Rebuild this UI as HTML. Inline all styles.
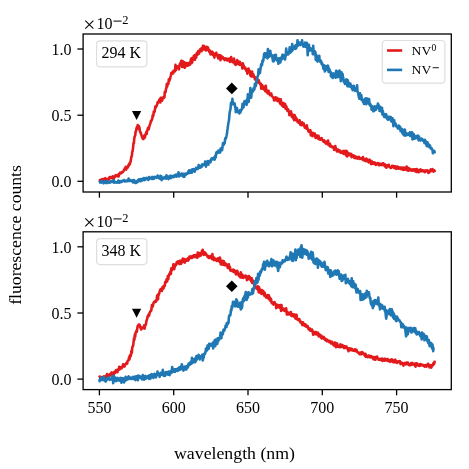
<!DOCTYPE html>
<html><head><meta charset="utf-8"><style>
html,body{margin:0;padding:0;background:#fff;width:469px;height:469px;overflow:hidden}
svg{display:block;will-change:transform}
.t{font-family:"Liberation Serif",serif;font-size:16px;fill:#000}
.l{font-family:"Liberation Serif",serif;font-size:13px;fill:#000}
</style></head><body>
<svg width="469" height="469" viewBox="0 0 469 469">
<rect width="469" height="469" fill="#fff"/>
<path d="M99.4 181.1L99.6 180.9L99.9 180.0L100.2 180.4L100.5 180.7L100.9 180.3L101.3 179.6L101.7 179.9L102.1 179.1L102.6 179.8L103.1 179.7L103.5 179.0L104.0 180.0L104.5 179.3L104.9 178.4L105.4 178.2L105.9 180.3L106.3 179.9L106.7 179.2L107.1 179.7L107.5 179.2L107.9 178.8L108.4 179.1L108.8 179.7L109.2 178.0L109.6 177.2L110.0 177.0L110.4 178.2L110.8 177.2L111.1 178.0L111.5 177.9L111.9 177.4L112.3 178.3L112.7 176.3L113.1 178.6L113.5 177.9L113.9 178.6L114.3 177.0L114.8 176.8L115.2 176.0L115.6 175.2L116.1 176.0L116.5 176.1L116.9 175.5L117.4 176.1L117.8 174.8L118.2 175.4L118.6 176.5L119.1 173.9L119.5 174.3L119.9 172.8L120.3 172.9L120.7 172.8L121.1 173.3L121.6 173.1L122.0 172.1L122.4 171.8L122.9 172.0L123.3 171.4L123.7 170.6L124.1 169.7L124.5 169.3L124.9 168.3L125.3 169.4L125.7 166.9L126.0 169.6L126.4 167.8L126.7 168.4L127.3 168.0L127.8 167.4L128.2 165.8L128.7 164.7L129.1 165.3L129.4 163.5L129.8 164.4L130.1 162.3L130.6 161.8L131.1 158.3L131.4 156.8L131.8 156.3L132.2 152.0L132.7 150.7L133.1 147.3L133.5 143.0L133.9 143.2L134.3 138.1L134.8 136.1L135.2 135.5L135.6 131.6L136.0 131.3L136.4 128.9L136.9 127.0L137.3 127.4L137.7 125.1L138.1 128.6L138.6 127.6L139.0 126.3L139.5 128.1L139.9 131.4L140.3 132.1L140.7 132.6L141.1 134.3L141.5 135.2L141.9 136.4L142.3 137.4L142.7 138.7L143.2 139.2L143.6 136.5L144.0 138.2L144.5 135.3L144.9 137.5L145.4 134.5L145.8 134.2L146.2 132.2L146.7 133.9L147.1 130.5L147.5 130.5L148.0 127.8L148.4 129.0L148.8 129.1L149.2 127.0L149.7 125.1L150.1 124.2L150.5 123.0L150.9 121.1L151.4 120.8L152.0 119.2L152.3 118.6L152.7 115.4L153.1 116.1L153.4 115.1L153.8 111.5L154.3 112.0L154.7 111.6L155.1 107.9L155.5 106.3L156.0 107.3L156.4 105.6L156.9 105.4L157.3 103.7L157.7 102.1L158.1 102.7L158.5 102.6L159.0 100.6L159.4 99.6L159.8 102.2L160.3 102.4L160.7 97.7L161.1 98.0L161.5 97.9L162.0 100.6L162.4 99.1L162.8 98.2L163.2 98.4L163.6 96.7L164.0 97.0L164.4 97.5L164.8 91.9L165.3 92.5L165.7 91.3L166.1 88.6L166.4 88.1L166.8 84.0L167.2 86.5L167.6 83.3L168.0 84.1L168.4 84.0L168.8 79.4L169.2 80.8L169.7 79.9L170.1 78.7L170.5 76.8L170.9 75.2L171.4 72.8L171.8 72.6L172.2 73.4L172.6 72.1L173.1 73.5L173.5 70.7L173.9 71.5L174.3 71.2L174.7 71.5L175.1 70.0L175.5 64.9L175.9 70.2L176.2 68.8L176.6 66.2L177.0 66.9L177.5 66.3L178.0 67.2L178.5 67.9L179.0 69.3L179.3 65.5L179.7 65.5L180.1 63.2L180.5 64.9L180.9 63.5L181.3 60.8L181.7 64.8L182.1 67.0L182.6 61.0L183.0 63.6L183.5 65.7L183.9 66.8L184.4 62.2L184.8 67.8L185.2 66.0L185.6 63.8L186.0 66.2L186.4 65.8L186.8 63.0L187.2 64.2L187.5 64.5L188.0 65.6L188.5 63.1L189.0 62.9L189.4 65.0L189.9 64.7L190.3 61.9L190.6 61.4L191.0 59.0L191.4 63.3L191.8 58.1L192.2 62.6L192.6 59.2L193.0 59.1L193.4 58.7L193.8 55.9L194.2 57.3L194.6 55.3L195.0 59.8L195.4 55.6L195.8 55.6L196.2 57.5L196.6 53.5L197.0 52.8L197.4 54.7L197.8 54.6L198.2 51.1L198.7 51.1L199.1 53.6L199.5 51.2L199.9 50.9L200.4 49.0L200.8 51.3L201.2 48.5L201.6 51.2L202.1 49.4L202.5 48.9L202.9 45.9L203.3 49.4L203.7 49.5L204.1 46.0L204.5 48.1L204.9 49.4L205.3 48.5L205.8 50.4L206.2 49.2L206.6 46.9L207.1 50.1L207.5 50.0L208.0 47.5L208.4 49.7L208.7 50.0L209.1 49.9L209.4 52.1L209.8 50.6L210.2 52.1L210.6 54.5L211.0 53.6L211.4 52.0L211.8 51.7L212.2 53.2L212.6 51.9L213.0 55.0L213.5 55.4L213.9 53.8L214.4 57.6L214.8 54.3L215.2 53.7L215.6 54.7L215.9 54.5L216.3 52.8L216.7 55.1L217.2 54.6L217.6 56.9L218.0 57.2L218.4 58.5L218.8 55.0L219.3 57.8L219.7 58.5L220.1 55.4L220.5 60.2L221.0 55.8L221.4 58.6L221.8 56.6L222.2 57.5L222.6 56.8L222.9 57.9L223.3 58.8L223.8 58.5L224.2 58.3L224.7 60.1L225.1 58.8L225.5 59.2L225.9 58.4L226.4 59.8L226.8 60.2L227.2 60.4L227.6 59.9L228.0 58.8L228.4 60.3L228.8 58.9L229.2 58.6L229.6 60.1L230.0 61.9L230.4 58.9L230.8 61.5L231.2 57.1L231.6 60.9L232.0 61.2L232.4 61.6L232.8 62.2L233.2 61.0L233.6 61.5L234.0 58.6L234.4 61.8L234.8 63.9L235.2 61.8L235.6 64.9L236.0 63.2L236.4 64.2L236.8 62.0L237.2 60.1L237.6 61.2L238.1 62.5L238.5 63.8L238.9 61.8L239.3 64.7L239.8 61.9L240.2 62.7L240.6 64.4L241.0 64.3L241.5 65.3L241.9 64.4L242.3 68.4L242.7 63.2L243.2 64.9L243.6 65.2L244.0 68.1L244.4 68.0L244.8 67.5L245.2 67.6L245.6 69.5L246.0 69.1L246.4 70.9L246.8 69.2L247.3 73.6L247.7 71.9L248.1 71.4L248.5 68.6L248.9 70.4L249.3 71.6L249.7 70.9L250.1 72.9L250.5 75.8L250.9 74.2L251.3 76.5L251.7 72.6L252.1 71.5L252.5 76.5L252.9 75.6L253.3 74.3L253.7 75.6L254.1 76.5L254.5 76.9L254.9 79.3L255.3 79.5L255.7 77.6L256.1 77.9L256.5 81.4L256.9 80.7L257.3 81.4L257.7 82.4L258.1 81.2L258.5 79.9L258.9 80.8L259.3 82.9L259.7 82.9L260.1 83.9L260.5 83.3L260.9 85.3L261.3 88.8L261.7 86.5L262.1 85.0L262.5 86.1L262.9 87.5L263.3 88.8L263.7 89.4L264.1 86.7L264.5 89.1L264.9 89.1L265.3 91.3L265.8 85.9L266.2 89.9L266.6 91.2L267.0 92.4L267.4 90.8L267.8 93.5L268.2 93.4L268.6 90.8L269.1 93.9L269.5 93.2L270.0 95.2L270.4 94.1L270.9 95.1L271.3 93.6L271.7 95.4L272.0 96.0L272.5 96.6L272.9 97.1L273.3 97.7L273.7 98.2L274.1 100.4L274.6 98.7L275.0 99.0L275.4 97.3L275.8 98.1L276.3 100.5L276.7 97.7L277.1 100.0L277.5 100.1L277.9 101.1L278.4 98.8L278.7 100.8L279.1 99.1L279.5 100.6L279.9 103.4L280.4 103.8L280.8 99.4L281.2 103.1L281.7 105.1L282.1 102.9L282.5 104.6L282.9 106.6L283.3 106.6L283.6 103.1L284.0 105.9L284.4 105.6L284.8 106.7L285.2 104.1L285.5 108.7L285.9 108.9L286.3 106.3L286.7 108.0L287.1 108.8L287.5 111.0L287.9 110.7L288.3 109.4L288.7 111.9L289.1 111.8L289.4 115.1L289.8 112.4L290.2 112.8L290.6 112.1L291.0 111.4L291.4 113.3L291.9 117.0L292.3 114.8L292.7 114.7L293.0 114.8L293.4 118.6L293.8 118.2L294.2 120.2L294.6 115.1L295.1 117.5L295.5 116.8L295.9 120.3L296.3 118.2L296.7 118.7L297.2 119.8L297.6 121.9L298.0 120.6L298.4 120.9L298.8 122.9L299.2 121.5L299.6 120.3L300.0 122.2L300.4 124.9L300.8 122.9L301.3 123.4L301.7 125.1L302.1 122.3L302.5 124.5L302.9 125.0L303.3 124.2L303.7 123.5L304.0 125.0L304.4 125.8L304.8 127.6L305.2 127.5L305.6 127.4L306.0 127.5L306.4 128.7L306.8 125.3L307.2 127.8L307.6 128.9L308.0 129.3L308.4 131.4L308.8 131.6L309.2 131.3L309.6 132.1L310.0 131.1L310.4 130.2L310.8 135.3L311.2 133.0L311.6 132.5L312.0 134.3L312.4 136.2L312.8 133.8L313.2 133.0L313.6 133.9L314.0 134.9L314.4 135.3L314.8 133.6L315.2 136.6L315.6 138.0L316.0 136.7L316.4 135.5L316.8 137.4L317.3 135.7L317.7 138.4L318.1 138.1L318.5 135.7L318.9 137.6L319.3 139.4L319.7 138.2L320.1 139.6L320.5 139.7L320.9 138.8L321.3 139.2L321.7 138.1L322.1 139.8L322.5 140.1L322.9 140.2L323.3 141.3L323.7 141.9L324.1 140.2L324.5 142.0L324.9 142.2L325.3 141.7L325.7 143.6L326.1 142.6L326.5 141.6L326.9 143.2L327.3 143.3L327.7 144.4L328.1 140.6L328.5 144.4L328.9 144.6L329.2 143.6L329.6 146.0L330.0 143.9L330.4 146.5L330.8 146.7L331.2 146.7L331.6 146.2L332.0 147.1L332.4 147.1L332.8 146.7L333.2 147.1L333.7 147.4L334.1 149.9L334.5 149.0L334.8 147.4L335.2 146.0L335.6 147.3L336.0 149.3L336.4 149.4L336.8 151.3L337.2 151.5L337.6 149.6L338.0 149.5L338.4 150.9L338.9 150.8L339.3 151.9L339.7 150.4L340.1 151.4L340.5 151.8L340.9 152.9L341.4 151.8L341.8 152.7L342.2 151.4L342.6 151.2L343.0 150.8L343.4 153.9L343.8 153.2L344.2 151.6L344.6 152.8L345.1 150.9L345.5 153.1L345.9 155.4L346.3 152.7L346.7 150.9L347.1 156.5L347.5 153.9L347.9 153.1L348.3 152.8L348.7 155.2L349.2 153.7L349.6 154.1L350.0 155.1L350.4 153.8L350.8 155.4L351.2 153.9L351.6 157.3L352.0 154.7L352.4 155.8L352.8 155.2L353.2 156.4L353.6 155.4L354.0 156.5L354.4 158.0L354.8 156.1L355.3 157.5L355.7 158.2L356.1 157.8L356.5 158.1L356.9 156.9L357.3 157.8L357.7 158.6L358.1 158.0L358.5 157.0L358.9 156.9L359.3 158.1L359.7 158.8L360.1 158.0L360.5 158.0L360.9 158.7L361.3 158.4L361.8 158.1L362.2 159.4L362.6 158.9L363.0 157.0L363.4 160.2L363.8 158.7L364.3 159.9L364.7 160.8L365.1 160.8L365.5 160.8L365.9 161.1L366.3 158.6L366.7 159.0L367.1 159.4L367.5 159.8L367.8 160.5L368.2 161.7L368.6 162.3L369.1 160.6L369.5 159.7L369.9 161.4L370.3 160.7L370.7 161.2L371.1 164.1L371.5 161.0L371.8 161.7L372.2 161.9L372.6 162.1L373.0 163.7L373.4 162.6L373.8 163.1L374.2 162.4L374.7 164.0L375.1 162.8L375.5 163.3L375.9 164.9L376.3 163.9L376.7 163.6L377.1 163.8L377.5 163.1L377.9 163.1L378.3 163.4L378.8 165.2L379.2 163.5L379.6 165.3L380.1 164.9L380.5 163.9L380.9 164.0L381.4 164.5L381.8 165.1L382.2 164.3L382.6 163.4L383.1 163.4L383.5 164.5L383.9 165.1L384.3 163.9L384.7 166.4L385.1 164.5L385.5 165.4L385.9 165.3L386.4 167.8L386.8 166.2L387.2 165.5L387.6 165.2L388.0 165.9L388.4 166.1L388.8 164.8L389.2 166.8L389.6 167.3L390.1 167.1L390.5 167.4L390.9 168.0L391.3 167.6L391.7 167.3L392.1 165.8L392.5 165.9L392.9 166.7L393.3 166.0L393.7 167.0L394.1 167.8L394.5 166.9L394.9 166.2L395.3 168.0L395.7 167.3L396.2 168.8L396.6 168.5L397.0 168.4L397.4 166.4L397.8 167.5L398.2 168.7L398.6 168.3L399.0 167.4L399.4 168.6L399.8 168.5L400.2 168.2L400.6 167.6L401.0 169.1L401.4 168.9L401.8 167.7L402.2 167.9L402.6 169.3L403.0 169.9L403.4 167.5L403.8 169.7L404.2 168.9L404.6 168.7L405.1 169.6L405.5 167.6L405.9 168.6L406.3 168.0L406.7 166.6L407.1 170.3L407.5 168.9L407.9 167.8L408.3 170.7L408.7 168.6L409.1 169.7L409.5 168.5L409.9 170.2L410.3 169.1L410.7 169.9L411.1 170.4L411.5 169.5L411.9 170.7L412.3 170.4L412.7 169.6L413.1 169.4L413.5 170.4L414.0 169.4L414.4 170.3L414.8 171.2L415.2 169.3L415.6 169.6L416.0 170.5L416.4 171.9L416.8 169.1L417.2 170.0L417.6 170.3L418.0 169.8L418.4 172.2L418.8 172.1L419.2 171.4L419.6 171.6L420.1 170.8L420.5 169.4L420.9 170.8L421.3 170.3L421.7 170.0L422.1 171.3L422.5 171.2L422.9 170.4L423.3 171.3L423.7 170.7L424.2 171.0L424.6 170.6L425.0 172.2L425.4 170.8L425.8 170.4L426.2 171.2L426.6 170.8L427.0 170.3L427.5 170.6L428.0 170.7L428.4 172.9L428.9 172.0L429.4 172.3L429.8 171.2L430.3 170.3L430.8 169.4L431.2 170.8L431.7 171.0L432.1 169.8L432.5 169.2L432.9 170.8L433.3 170.1L433.6 171.8L433.9 171.1L434.2 170.3L434.5 170.6L434.7 172.1" fill="none" stroke="#e31a1c" stroke-width="2.6" stroke-linejoin="round"/>
<path d="M99.4 182.5L99.6 182.0L99.8 182.0L100.1 182.5L100.4 182.4L100.7 182.4L101.0 182.7L101.3 182.5L101.6 180.9L102.0 181.7L102.4 182.1L102.8 181.7L103.2 182.4L103.6 183.3L104.0 183.0L104.4 181.7L104.8 182.1L105.3 182.4L105.7 181.5L106.2 183.0L106.7 182.3L107.1 181.2L107.6 183.0L108.1 181.8L108.5 181.5L109.0 182.1L109.5 182.6L109.9 182.7L110.4 182.4L110.9 181.3L111.4 181.8L111.8 181.3L112.3 181.7L112.7 180.8L113.2 182.2L113.6 182.5L114.0 180.3L114.4 181.5L114.8 182.6L115.2 182.1L115.6 182.3L116.1 182.5L116.5 182.4L117.0 182.7L117.4 182.2L117.9 181.3L118.3 180.5L118.8 182.3L119.2 182.6L119.7 181.4L120.2 181.9L120.6 182.2L121.1 181.0L121.5 181.3L121.9 181.8L122.4 180.9L122.8 180.9L123.2 180.7L123.7 180.2L124.1 180.1L124.5 181.3L124.9 181.5L125.3 180.9L125.7 181.2L126.1 180.9L126.5 180.6L126.9 181.1L127.2 181.0L127.6 180.3L127.9 181.2L128.3 180.7L128.6 178.5L128.9 180.6L129.2 180.6L129.8 180.9L130.4 180.0L130.9 181.0L131.3 180.7L131.7 180.8L132.1 180.5L132.4 180.3L132.7 181.9L133.0 182.5L133.4 181.4L133.7 182.1L134.0 180.1L134.4 181.1L134.8 181.1L135.3 182.9L135.6 182.1L136.0 182.1L136.3 182.9L136.6 181.6L137.0 181.1L137.3 181.5L137.6 182.0L138.0 181.7L138.3 179.8L138.7 180.0L139.0 179.3L139.4 181.0L139.8 179.5L140.2 179.1L140.7 181.2L141.1 180.9L141.6 179.4L142.2 180.3L142.7 178.5L143.3 179.3L143.9 178.0L144.2 180.3L144.5 178.8L144.9 179.7L145.2 178.9L145.5 178.6L145.9 178.2L146.3 179.0L146.7 177.8L147.1 179.1L147.5 179.5L147.9 179.2L148.3 179.8L148.7 179.1L149.2 177.1L149.6 178.9L150.0 177.8L150.5 177.8L150.9 178.1L151.4 178.1L151.8 179.0L152.3 176.9L152.8 178.9L153.2 177.3L153.7 178.6L154.1 178.7L154.6 176.9L155.0 177.2L155.5 177.4L155.9 177.1L156.4 177.5L156.8 177.9L157.2 177.7L157.6 175.6L158.1 177.3L158.5 176.6L158.9 177.0L159.3 178.3L159.6 178.0L160.0 178.4L160.4 175.9L160.7 179.0L161.1 177.3L161.4 176.3L161.7 180.1L162.0 178.3L162.6 177.7L163.2 178.6L163.7 177.5L164.2 178.4L164.7 177.4L165.1 177.1L165.5 177.6L165.8 176.6L166.2 178.7L166.5 175.2L166.8 178.0L167.1 178.1L167.4 178.1L167.8 178.3L168.1 176.7L168.4 179.1L168.8 176.6L169.2 177.3L169.6 176.1L170.0 178.2L170.4 175.7L170.7 178.0L171.1 177.9L171.5 177.2L171.9 175.9L172.3 177.1L172.7 176.3L173.1 176.8L173.5 176.6L173.9 177.1L174.3 175.4L174.7 176.1L175.2 176.1L175.6 176.1L176.0 174.6L176.4 176.8L176.9 175.5L177.3 174.7L177.7 175.4L178.1 175.9L178.5 172.4L179.0 176.5L179.4 173.5L179.8 175.2L180.2 174.9L180.6 175.5L181.0 175.3L181.4 175.7L181.9 173.6L182.3 175.3L182.7 175.5L183.1 175.2L183.6 176.8L184.0 173.9L184.4 176.7L184.8 174.7L185.2 173.8L185.7 173.7L186.1 174.6L186.5 173.4L186.9 173.9L187.3 173.3L187.7 173.7L188.2 172.1L188.6 171.1L189.0 170.4L189.3 172.9L189.7 172.2L190.1 170.6L190.5 172.7L190.9 171.1L191.4 169.9L191.8 172.7L192.2 171.2L192.6 169.3L193.1 169.7L193.5 169.1L193.9 170.8L194.3 171.2L194.7 171.7L195.1 169.5L195.5 168.5L195.8 169.6L196.2 167.7L196.6 169.1L197.0 168.6L197.4 167.9L197.8 169.0L198.2 167.6L198.6 165.1L199.0 167.9L199.4 167.7L199.8 165.7L200.2 166.7L200.6 167.6L201.0 165.7L201.4 166.4L201.8 166.6L202.2 164.3L202.6 164.8L203.0 165.1L203.4 165.1L203.9 164.3L204.3 164.5L204.7 164.8L205.1 161.6L205.5 164.3L205.9 166.6L206.3 165.0L206.7 164.4L207.1 162.7L207.5 161.2L207.9 161.1L208.3 164.7L208.8 161.6L209.2 161.4L209.6 161.1L210.1 161.4L210.5 162.3L210.9 159.9L211.4 158.9L211.8 158.3L212.2 158.3L212.7 159.3L213.1 158.1L213.5 158.7L213.9 157.6L214.3 158.5L214.7 159.6L215.1 157.2L215.4 155.6L215.8 157.5L216.1 153.4L216.7 152.1L217.2 153.3L217.6 153.0L218.1 151.4L218.5 150.5L218.9 152.4L219.3 151.3L219.7 151.2L220.1 152.6L220.4 149.8L220.8 148.3L221.2 148.1L221.7 148.7L222.1 150.2L222.6 146.3L223.0 143.1L223.5 145.1L223.9 144.5L224.3 143.4L224.7 143.0L225.1 139.3L225.4 138.1L226.0 138.3L226.5 136.0L227.0 133.3L227.3 130.4L227.7 128.2L228.3 123.3L228.8 121.2L229.2 118.0L229.6 113.0L230.1 110.6L230.5 109.0L231.0 102.9L231.7 101.9L232.0 104.2L232.4 98.9L232.8 102.6L233.2 104.3L233.7 103.7L234.1 104.2L234.6 103.4L235.1 107.0L235.5 108.1L235.8 112.1L236.2 107.5L236.6 110.6L237.0 108.1L237.4 111.4L237.8 110.9L238.3 112.4L238.8 111.6L239.4 113.4L239.7 110.9L240.1 110.0L240.5 112.3L240.9 110.0L241.3 110.4L241.7 109.1L242.1 108.9L242.6 103.7L243.0 107.1L243.5 107.4L243.9 103.9L244.4 101.4L244.8 103.3L245.3 102.5L245.7 100.8L246.2 104.4L246.6 104.8L247.0 99.7L247.4 100.9L247.9 94.2L248.3 99.1L248.7 102.0L249.1 96.9L249.6 96.6L250.0 93.2L250.4 88.1L250.8 93.4L251.2 97.7L251.6 92.3L252.0 90.3L252.4 92.2L252.8 90.4L253.2 91.2L253.5 88.5L253.9 87.8L254.4 89.5L254.9 83.7L255.3 85.2L255.8 86.1L256.2 83.4L256.6 80.0L257.0 80.6L257.4 76.8L257.8 76.4L258.2 74.3L258.6 69.4L259.0 73.8L259.5 70.5L259.9 73.0L260.4 69.6L260.8 67.0L261.2 64.2L261.6 64.0L262.0 65.2L262.5 60.5L262.9 61.6L263.3 60.2L263.7 57.6L264.1 54.1L264.5 53.3L264.9 54.5L265.4 56.7L265.8 53.4L266.2 57.3L266.6 54.3L267.0 54.0L267.5 58.4L267.9 49.1L268.3 54.3L268.7 55.3L269.1 51.7L269.5 56.6L269.9 52.3L270.3 50.8L270.7 54.5L271.2 54.5L271.6 55.5L272.1 55.3L272.6 58.7L273.0 61.3L273.3 56.7L273.7 61.4L274.1 57.4L274.6 55.0L275.0 58.3L275.4 58.8L275.8 54.7L276.3 59.6L276.7 60.3L277.1 59.3L277.5 59.2L278.0 58.5L278.4 63.8L278.8 59.8L279.1 58.2L279.5 61.8L280.0 60.9L280.4 62.4L280.9 57.9L281.3 59.0L281.7 57.1L282.1 59.2L282.4 54.8L282.8 57.4L283.2 57.9L283.7 55.0L284.1 58.4L284.6 55.9L285.0 59.5L285.4 56.7L285.8 55.5L286.2 48.5L286.6 54.7L287.0 51.8L287.5 53.6L287.9 54.5L288.3 54.5L288.8 52.0L289.2 52.0L289.7 47.4L290.1 52.8L290.5 52.5L291.0 51.9L291.4 49.0L291.8 51.3L292.2 44.1L292.6 50.3L293.0 47.3L293.5 48.9L293.9 47.5L294.3 46.5L294.7 46.6L295.1 45.8L295.5 48.9L295.9 45.0L296.3 48.1L296.7 45.1L297.1 46.3L297.5 40.2L297.8 45.6L298.2 44.1L298.7 43.6L299.1 42.5L299.6 42.6L300.0 45.1L300.4 44.9L300.9 44.2L301.3 44.4L301.7 44.0L302.1 40.4L302.5 44.6L302.9 44.6L303.3 46.5L303.7 46.6L304.2 45.5L304.6 45.2L305.1 42.5L305.5 46.6L305.9 46.9L306.4 47.2L306.8 42.8L307.3 44.8L307.7 55.2L308.1 49.3L308.5 48.8L309.0 44.8L309.4 50.7L309.9 48.5L310.3 48.6L310.7 48.4L311.1 48.8L311.5 50.5L312.0 48.6L312.4 49.4L312.8 54.1L313.2 45.7L313.7 54.2L314.1 53.6L314.5 51.0L315.0 51.7L315.4 52.1L315.8 60.0L316.2 55.0L316.7 55.8L317.1 58.3L317.5 61.6L317.9 59.7L318.4 59.1L318.8 58.8L319.2 55.7L319.6 59.0L320.0 61.3L320.5 62.1L320.9 60.7L321.3 62.0L321.7 64.3L322.2 63.4L322.6 64.7L323.1 66.7L323.5 68.9L323.9 65.8L324.4 65.3L324.8 71.5L325.2 69.3L325.6 70.3L326.1 66.3L326.5 69.5L326.9 68.7L327.4 67.1L327.8 65.6L328.2 66.2L328.6 71.9L329.0 68.6L329.4 69.2L329.8 70.9L330.2 71.2L330.6 71.9L331.0 76.3L331.4 74.3L331.9 74.3L332.4 77.6L332.8 77.9L333.2 73.4L333.6 77.0L334.0 74.2L334.4 73.8L334.8 76.7L335.3 75.9L335.7 77.7L336.2 70.7L336.6 72.6L337.1 73.2L337.5 71.6L337.9 77.1L338.3 74.2L338.7 74.6L339.1 76.6L339.5 70.5L339.9 74.0L340.3 75.1L340.8 81.2L341.2 74.7L341.6 72.3L342.1 78.1L342.6 74.1L343.0 79.2L343.3 77.6L343.7 81.7L344.1 82.0L344.5 80.7L344.9 84.0L345.3 82.4L345.7 82.0L346.2 79.5L346.6 79.4L347.0 84.3L347.4 86.1L347.8 80.2L348.3 86.3L348.7 82.9L349.1 86.5L349.5 86.3L349.9 83.4L350.3 83.5L350.7 85.1L351.1 87.1L351.5 85.4L351.9 88.6L352.3 87.3L352.7 90.2L353.1 88.5L353.5 87.1L353.9 85.8L354.3 88.7L354.7 89.5L355.1 90.8L355.5 88.2L355.9 88.4L356.3 88.5L356.7 90.2L357.1 85.4L357.5 91.7L357.9 92.1L358.4 94.8L358.8 96.2L359.2 98.6L359.6 96.1L360.0 93.4L360.4 98.3L360.8 99.2L361.2 95.0L361.6 97.4L362.0 100.2L362.4 99.3L362.7 100.0L363.1 102.1L363.6 100.0L364.0 103.9L364.5 103.5L364.9 100.5L365.3 98.5L365.8 102.4L366.2 104.2L366.6 98.4L367.0 102.8L367.4 98.7L367.8 102.9L368.2 100.8L368.6 103.6L369.1 99.0L369.5 104.0L369.9 105.3L370.3 104.1L370.8 105.9L371.2 105.4L371.6 109.7L372.0 108.6L372.4 108.0L372.9 106.7L373.3 111.3L373.7 109.8L374.1 109.3L374.5 110.5L374.9 106.4L375.3 106.6L375.7 109.9L376.2 109.3L376.6 106.6L377.0 105.9L377.5 107.8L377.9 103.6L378.4 104.8L378.8 105.9L379.1 106.7L379.5 110.9L379.9 110.2L380.3 106.9L380.7 109.1L381.2 111.4L381.6 109.7L382.0 107.7L382.4 114.5L382.8 111.0L383.3 113.1L383.7 114.2L384.1 116.9L384.5 114.2L384.8 116.9L385.2 114.8L385.7 115.4L386.2 114.1L386.6 118.0L387.1 118.6L387.5 117.7L387.9 119.8L388.3 116.8L388.7 118.1L389.1 116.8L389.6 117.8L390.0 117.8L390.4 119.9L390.8 117.0L391.3 121.4L391.7 119.6L392.1 121.9L392.5 118.2L393.0 121.4L393.4 126.1L393.8 124.3L394.2 120.4L394.7 124.0L395.1 124.0L395.5 123.5L395.9 124.3L396.3 126.5L396.8 126.3L397.2 126.5L397.6 127.8L398.0 128.5L398.4 127.7L398.8 125.6L399.3 126.1L399.7 129.1L400.1 126.9L400.6 131.3L401.0 128.9L401.4 130.1L401.7 128.9L402.1 130.9L402.5 133.5L402.9 131.7L403.3 130.0L403.8 135.1L404.2 130.5L404.6 129.5L405.0 130.0L405.4 135.7L405.8 133.0L406.2 134.7L406.6 133.3L407.0 135.0L407.4 134.3L407.9 134.6L408.3 134.6L408.7 133.6L409.1 135.0L409.5 135.2L409.9 132.2L410.3 136.0L410.7 134.9L411.2 133.4L411.6 135.9L412.0 132.2L412.5 139.4L412.9 135.4L413.3 135.6L413.7 133.9L414.1 138.8L414.5 137.6L414.9 135.9L415.4 138.4L415.8 137.8L416.2 136.1L416.6 136.3L417.1 137.8L417.5 137.5L417.9 135.6L418.3 139.3L418.7 140.4L419.0 136.6L419.4 139.8L419.9 138.4L420.4 140.4L420.8 140.4L421.2 139.8L421.7 138.6L422.1 140.2L422.5 140.0L422.9 139.7L423.3 140.9L423.7 140.6L424.1 141.7L424.5 143.1L424.9 139.9L425.4 142.2L425.8 141.5L426.2 143.6L426.6 145.8L427.1 146.1L427.5 142.2L427.9 146.1L428.3 146.0L428.7 144.5L429.2 146.0L429.6 147.4L430.0 145.5L430.5 147.8L431.0 148.7L431.5 148.0L432.0 149.5L432.5 150.1L432.9 153.3L433.4 152.8L433.8 151.8L434.1 150.9L434.5 151.2L434.7 153.3" fill="none" stroke="#1f77b4" stroke-width="2.6" stroke-linejoin="round"/>
<rect x="83.1" y="34.0" width="368.20000000000005" height="158.0" fill="none" stroke="#000" stroke-width="1.3"/>
<line x1="77.39999999999999" y1="181.3" x2="83.1" y2="181.3" stroke="#000" stroke-width="1.3"/>
<text x="71.4" y="187.10000000000002" text-anchor="end" class="t">0.0</text>
<line x1="77.39999999999999" y1="115.2" x2="83.1" y2="115.2" stroke="#000" stroke-width="1.3"/>
<text x="71.4" y="121.0" text-anchor="end" class="t">0.5</text>
<line x1="77.39999999999999" y1="49.0" x2="83.1" y2="49.0" stroke="#000" stroke-width="1.3"/>
<text x="71.4" y="54.8" text-anchor="end" class="t">1.0</text>
<line x1="99.4" y1="192.0" x2="99.4" y2="197.7" stroke="#000" stroke-width="1.3"/>
<line x1="173.7" y1="192.0" x2="173.7" y2="197.7" stroke="#000" stroke-width="1.3"/>
<line x1="248.0" y1="192.0" x2="248.0" y2="197.7" stroke="#000" stroke-width="1.3"/>
<line x1="322.29999999999995" y1="192.0" x2="322.29999999999995" y2="197.7" stroke="#000" stroke-width="1.3"/>
<line x1="396.6" y1="192.0" x2="396.6" y2="197.7" stroke="#000" stroke-width="1.3"/>
<path d="M85.3 20.6L93.4 28.6M93.4 20.6L85.3 28.6" stroke="#000" stroke-width="1.05" fill="none"/>
<text x="96.6" y="29.3" class="t">10</text>
<rect x="113.5" y="20.6" width="8.1" height="1.0" fill="#000"/>
<text x="122.3" y="23.9" class="t" style="font-size:12.4px">2</text>
<rect x="96.6" y="40.8" width="50.3" height="26" rx="3.5" fill="#fff" fill-opacity="0.8" stroke="#dedede" stroke-width="1.2"/>
<text x="101.6" y="58" class="t" textLength="39.5" lengthAdjust="spacingAndGlyphs">294 K</text>
<rect x="382.3" y="40.5" width="62.6" height="42.7" rx="3.5" fill="#fff" fill-opacity="0.8" stroke="#dedede" stroke-width="1.2"/>
<line x1="387" y1="50.5" x2="402.2" y2="50.5" stroke="#e31a1c" stroke-width="2.6"/>
<line x1="387" y1="69.9" x2="402.2" y2="69.9" stroke="#1f77b4" stroke-width="2.6"/>
<text x="411.6" y="55" class="l" textLength="19.6" lengthAdjust="spacingAndGlyphs">NV</text>
<text x="431.6" y="50.8" class="l" style="font-size:9.6px">0</text>
<text x="411.6" y="74.3" class="l" textLength="19.6" lengthAdjust="spacingAndGlyphs">NV</text>
<rect x="432.6" y="67.3" width="6.3" height="0.9" fill="#000"/>
<path d="M132.0 110.9 L141.2 110.9 L136.6 120.0 Z" fill="#000"/>
<path d="M231.8 82.60000000000001 L237.60000000000002 88.4 L231.8 94.2 L226.0 88.4 Z" fill="#000"/>
<path d="M99.4 377.4L99.6 376.6L99.9 376.6L100.2 378.1L100.5 377.6L100.9 377.7L101.3 377.8L101.8 377.2L102.2 377.4L102.7 378.7L103.1 376.7L103.6 376.6L104.1 376.5L104.5 376.7L105.0 377.0L105.4 376.4L105.8 378.1L106.2 375.8L106.6 377.6L107.0 374.0L107.4 375.3L107.8 375.8L108.2 375.5L108.6 376.1L109.1 375.1L109.5 375.4L109.9 374.0L110.4 375.3L110.8 374.0L111.3 374.1L111.7 372.4L112.2 373.9L112.6 374.2L113.0 373.3L113.3 374.9L113.7 374.2L114.1 372.0L114.6 373.1L115.0 371.9L115.4 372.8L115.8 370.2L116.2 372.1L116.7 371.8L117.1 369.7L117.5 372.1L117.9 370.0L118.3 370.4L118.8 369.9L119.2 366.7L119.6 369.3L119.9 368.8L120.3 368.9L120.7 367.3L121.2 368.0L121.7 368.2L122.1 367.4L122.6 366.4L123.1 364.2L123.5 364.7L124.0 366.1L124.4 366.5L124.9 365.6L125.3 364.4L125.7 363.8L126.1 363.5L126.5 362.9L126.8 362.6L127.2 363.6L127.5 361.1L128.1 360.5L128.6 360.2L129.1 357.2L129.5 359.5L129.8 355.9L130.2 355.0L130.5 356.5L130.9 355.4L131.4 351.0L131.8 352.9L132.3 347.2L132.7 346.5L133.1 345.9L133.5 342.6L133.9 338.6L134.4 339.7L134.8 334.5L135.2 336.7L135.7 332.2L136.1 331.9L136.5 330.7L136.9 331.7L137.3 328.1L137.8 325.8L138.2 326.0L138.6 324.7L139.0 325.0L139.4 324.7L139.8 325.1L140.3 327.3L140.7 328.1L141.2 329.5L141.6 327.5L142.0 327.7L142.5 327.8L142.9 328.1L143.4 327.5L143.8 327.0L144.2 325.3L144.6 328.6L145.1 325.2L145.5 325.2L145.9 324.2L146.4 321.3L146.8 319.8L147.2 318.9L147.6 316.5L148.1 316.0L148.5 314.6L149.0 315.8L149.5 313.2L149.9 312.5L150.3 311.4L150.8 310.9L151.2 310.9L151.6 308.0L152.0 305.0L152.5 306.8L152.9 305.8L153.3 303.7L153.7 302.6L154.1 301.9L154.6 301.9L155.0 302.0L155.4 300.8L155.8 301.8L156.3 301.1L156.7 299.3L157.1 295.6L157.6 297.4L158.0 299.3L158.4 294.0L158.9 294.8L159.3 293.0L159.8 291.0L160.2 289.6L160.6 289.8L161.1 288.9L161.5 289.4L161.9 291.0L162.3 289.3L162.7 286.8L163.2 288.6L163.6 288.3L164.0 285.7L164.4 286.4L164.8 285.8L165.2 281.8L165.7 282.7L166.1 282.1L166.6 279.3L167.1 281.5L167.5 279.5L167.9 276.0L168.3 279.1L168.7 275.3L169.1 274.9L169.5 273.7L170.0 274.5L170.4 271.6L170.9 274.0L171.3 268.4L171.8 270.4L172.2 269.0L172.6 268.5L173.0 267.4L173.4 264.3L173.8 265.9L174.2 269.3L174.6 267.3L175.1 265.5L175.5 264.3L175.9 265.2L176.4 264.1L176.8 262.1L177.3 262.4L177.7 263.2L178.1 261.2L178.5 261.7L178.9 263.1L179.3 264.0L179.7 261.6L180.2 260.6L180.6 263.2L181.0 263.8L181.5 260.9L181.9 262.5L182.4 259.9L182.8 258.6L183.2 262.0L183.7 261.2L184.1 259.9L184.5 259.2L184.9 262.6L185.3 260.7L185.7 260.4L186.1 259.5L186.6 260.7L187.0 259.5L187.4 259.0L187.8 258.3L188.2 260.6L188.6 257.9L189.0 259.2L189.4 256.6L189.8 256.9L190.2 256.9L190.5 256.9L190.9 256.3L191.4 258.0L191.9 257.9L192.3 256.3L192.7 257.2L193.1 257.3L193.6 255.2L194.0 256.3L194.4 256.8L194.8 256.9L195.2 255.1L195.6 256.8L196.1 256.6L196.5 257.1L196.9 256.2L197.3 257.7L197.7 252.5L198.2 254.8L198.6 255.8L199.0 256.3L199.4 253.0L199.9 254.1L200.3 254.3L200.7 255.7L201.1 254.2L201.6 253.3L202.0 250.6L202.4 254.3L202.8 249.9L203.2 251.9L203.6 253.4L204.0 254.8L204.4 254.2L204.7 252.2L205.1 253.5L205.5 254.4L205.9 253.4L206.3 254.5L206.7 255.4L207.2 255.4L207.6 256.8L208.0 255.9L208.4 257.0L208.8 257.9L209.2 257.2L209.5 257.1L209.9 257.9L210.3 256.0L210.7 256.3L211.1 257.7L211.6 257.6L212.0 258.9L212.4 254.1L212.8 259.3L213.2 257.0L213.6 259.2L214.0 260.1L214.4 257.7L214.8 259.5L215.2 259.9L215.6 260.1L216.0 259.9L216.5 259.1L216.9 261.0L217.3 260.4L217.7 260.6L218.1 258.2L218.5 259.2L218.9 258.7L219.3 261.7L219.8 257.6L220.2 258.6L220.7 264.1L221.1 262.1L221.6 262.4L222.0 264.6L222.3 263.1L222.7 260.9L223.1 263.3L223.5 264.7L223.9 261.3L224.3 263.6L224.7 265.1L225.2 265.1L225.6 263.5L226.0 264.6L226.4 265.4L226.8 264.4L227.3 265.6L227.7 267.9L228.1 266.6L228.5 268.3L228.9 264.4L229.3 267.0L229.7 267.7L230.0 267.1L230.4 270.6L230.9 270.1L231.3 270.0L231.8 270.5L232.2 271.2L232.7 269.8L233.1 269.6L233.5 271.8L233.9 271.2L234.3 270.2L234.7 272.5L235.1 270.8L235.5 272.8L236.0 274.4L236.4 272.7L236.8 272.2L237.2 270.8L237.6 271.7L238.0 274.0L238.4 273.8L238.8 275.7L239.2 274.9L239.6 276.2L240.0 275.3L240.4 277.4L240.8 272.4L241.2 273.7L241.6 275.2L242.0 277.6L242.4 274.7L242.8 277.2L243.2 277.8L243.6 275.9L244.0 276.1L244.4 277.2L244.8 277.3L245.2 275.8L245.7 277.5L246.1 275.7L246.5 276.3L246.9 280.1L247.3 277.8L247.7 278.4L248.1 278.8L248.5 279.2L248.9 276.0L249.3 277.8L249.7 279.5L250.1 277.4L250.5 278.0L250.9 279.2L251.3 281.4L251.8 278.4L252.2 283.0L252.6 280.8L253.0 283.3L253.4 280.8L253.8 282.5L254.3 285.2L254.7 284.4L255.1 287.6L255.5 286.2L255.9 287.2L256.4 286.6L256.8 288.7L257.2 287.0L257.6 286.3L257.9 289.7L258.3 286.5L258.7 292.3L259.1 287.4L259.5 292.5L259.9 289.4L260.3 291.7L260.6 292.0L261.0 293.5L261.5 293.8L261.9 290.0L262.3 290.9L262.7 292.0L263.2 291.0L263.6 294.4L264.0 294.7L264.3 295.6L264.7 292.7L265.1 296.0L265.5 295.1L265.9 297.3L266.3 297.7L266.7 296.4L267.2 296.6L267.6 295.0L268.0 298.3L268.4 298.1L268.9 295.3L269.3 299.5L269.7 299.0L270.1 297.7L270.5 301.0L271.0 299.0L271.4 301.3L271.8 303.2L272.2 302.1L272.6 302.9L273.0 302.3L273.4 304.6L273.8 303.6L274.2 303.0L274.6 302.2L275.0 303.9L275.4 304.3L275.8 304.1L276.2 308.1L276.5 305.1L276.9 305.5L277.3 304.9L277.7 305.6L278.2 307.2L278.6 306.6L279.0 305.2L279.4 306.3L279.8 307.4L280.3 308.5L280.7 305.0L281.1 310.9L281.5 305.0L281.9 310.1L282.3 309.8L282.7 308.6L283.1 309.3L283.5 309.2L283.9 308.7L284.4 311.0L284.8 310.7L285.2 309.0L285.6 311.1L286.1 308.3L286.5 310.9L286.9 314.5L287.3 311.7L287.8 313.4L288.2 314.5L288.6 314.0L289.0 314.1L289.4 312.9L289.8 313.8L290.2 312.6L290.5 314.8L290.9 312.1L291.4 315.8L291.8 316.0L292.2 314.1L292.7 315.1L293.1 315.6L293.5 316.3L293.8 314.3L294.2 316.7L294.6 316.9L295.0 317.1L295.4 318.4L295.7 314.8L296.1 318.6L296.5 314.8L296.9 317.3L297.3 319.4L297.7 318.8L298.1 319.8L298.5 319.2L298.9 319.4L299.3 319.2L299.7 321.3L300.1 320.7L300.5 322.5L300.9 321.8L301.3 322.5L301.7 322.3L302.1 324.9L302.5 322.2L303.0 322.2L303.4 325.0L303.8 325.3L304.2 323.9L304.6 324.8L305.0 325.9L305.5 324.4L305.9 326.4L306.3 325.5L306.7 326.9L307.1 327.0L307.5 326.0L307.9 327.3L308.3 328.1L308.7 329.5L309.1 329.3L309.5 329.6L309.9 328.4L310.3 330.7L310.7 329.8L311.2 329.6L311.6 330.8L312.0 329.6L312.4 330.6L312.8 332.3L313.2 334.7L313.6 332.6L314.0 332.7L314.4 333.2L314.8 332.1L315.2 334.1L315.6 332.1L316.0 332.1L316.4 334.4L316.8 333.9L317.2 333.4L317.6 333.4L318.0 332.6L318.4 335.5L318.8 336.3L319.2 335.0L319.6 334.5L320.1 335.8L320.5 335.2L320.9 337.6L321.3 335.7L321.7 338.4L322.1 338.5L322.5 336.7L322.9 338.3L323.3 338.2L323.7 337.0L324.1 338.2L324.5 339.3L324.9 338.4L325.3 338.6L325.7 340.4L326.1 340.2L326.5 339.7L326.9 341.2L327.3 339.8L327.7 341.1L328.1 340.7L328.5 341.3L329.0 341.6L329.4 342.2L329.8 340.9L330.2 342.3L330.6 341.8L331.0 343.3L331.4 342.1L331.8 341.7L332.2 343.5L332.6 343.1L333.0 344.3L333.4 343.0L333.8 345.5L334.2 345.2L334.6 342.6L335.1 344.9L335.5 342.7L335.9 347.1L336.3 345.4L336.7 345.8L337.1 343.5L337.5 346.6L337.9 346.3L338.3 346.5L338.7 346.2L339.2 347.1L339.6 347.1L340.0 344.8L340.4 344.3L340.8 347.1L341.2 345.9L341.6 346.8L342.0 346.4L342.4 345.0L342.8 346.6L343.2 346.6L343.6 345.9L344.0 348.1L344.4 346.4L344.8 346.2L345.3 346.2L345.7 347.2L346.1 348.0L346.5 346.5L346.9 348.2L347.3 348.2L347.7 349.2L348.1 348.7L348.5 351.2L348.9 348.4L349.3 348.8L349.7 349.7L350.1 348.4L350.5 348.5L350.9 350.1L351.3 348.9L351.8 348.9L352.2 350.5L352.6 350.5L353.0 349.9L353.4 350.6L353.8 350.1L354.3 350.9L354.7 349.7L355.1 350.9L355.5 349.4L355.9 349.7L356.3 350.0L356.7 350.2L357.1 352.0L357.5 351.8L357.8 352.5L358.2 352.8L358.6 352.8L359.1 352.7L359.5 354.3L359.9 353.3L360.3 352.6L360.6 352.7L361.0 354.1L361.4 353.8L361.7 354.1L362.1 352.0L362.5 352.4L362.9 352.8L363.3 353.6L363.7 353.5L364.2 354.0L364.6 355.4L365.1 356.0L365.5 353.9L365.8 356.8L366.2 355.0L366.6 356.8L367.0 356.5L367.4 356.3L367.8 357.2L368.2 356.5L368.7 355.5L369.1 355.7L369.5 356.5L370.0 356.9L370.4 357.5L370.8 356.0L371.3 356.2L371.7 356.8L372.1 357.3L372.6 357.9L373.0 356.9L373.4 359.3L373.8 358.3L374.2 359.3L374.6 357.7L375.0 357.0L375.4 359.8L375.9 357.3L376.3 357.8L376.7 358.3L377.1 356.6L377.5 358.2L377.9 358.3L378.3 358.7L378.7 359.7L379.1 359.5L379.5 359.8L379.9 359.6L380.3 358.9L380.7 359.9L381.1 359.3L381.5 360.0L381.9 358.5L382.3 360.8L382.7 360.9L383.1 360.1L383.5 359.9L383.9 360.4L384.3 358.8L384.7 360.7L385.1 358.9L385.5 360.3L386.0 359.2L386.4 360.1L386.8 360.5L387.2 360.7L387.6 359.0L388.0 360.9L388.4 359.7L388.8 361.2L389.2 360.1L389.6 361.1L390.1 361.8L390.5 360.8L390.9 361.3L391.3 359.5L391.7 359.3L392.1 359.4L392.5 361.7L392.9 361.9L393.3 362.2L393.7 362.1L394.1 360.4L394.5 362.2L394.9 361.2L395.3 359.7L395.7 361.4L396.2 362.2L396.6 361.2L397.0 362.9L397.4 362.1L397.8 361.8L398.2 362.2L398.6 361.3L399.0 361.9L399.4 361.7L399.8 361.1L400.2 363.1L400.6 364.1L401.0 362.7L401.4 363.6L401.8 362.8L402.2 362.7L402.6 363.9L403.0 363.1L403.4 365.6L403.8 363.8L404.2 363.4L404.6 363.4L405.1 362.8L405.5 363.0L405.9 364.4L406.3 364.0L406.7 362.7L407.1 364.0L407.5 362.6L407.9 362.6L408.3 363.5L408.7 364.9L409.1 364.3L409.5 365.1L409.9 364.5L410.3 365.1L410.7 364.1L411.1 363.2L411.5 363.9L411.9 364.8L412.3 362.9L412.7 363.6L413.1 364.5L413.5 364.0L414.0 364.5L414.4 365.1L414.8 363.5L415.2 366.0L415.6 366.6L416.0 365.6L416.4 363.3L416.8 364.7L417.2 363.5L417.6 364.9L418.0 364.9L418.4 365.7L418.9 365.7L419.3 364.5L419.7 365.9L420.2 364.0L420.6 365.5L421.0 365.0L421.5 364.5L421.9 365.3L422.3 365.4L422.8 365.0L423.2 365.1L423.6 365.4L424.0 366.2L424.4 365.3L424.8 366.6L425.2 365.4L425.5 366.3L425.9 365.1L426.2 366.7L426.8 365.8L427.3 364.6L427.8 366.0L428.2 363.8L428.7 366.0L429.1 366.1L429.5 367.4L429.9 367.2L430.2 365.4L430.6 365.9L430.9 365.1L431.3 367.6L431.8 365.9L432.3 365.1L432.8 365.3L433.3 363.2L433.7 364.4L434.1 363.8L434.4 363.1L434.7 360.6" fill="none" stroke="#e31a1c" stroke-width="2.6" stroke-linejoin="round"/>
<path d="M99.4 379.3L99.6 381.2L99.9 379.4L100.1 379.0L100.4 378.5L100.7 379.5L101.1 377.8L101.4 378.4L101.8 379.8L102.2 378.7L102.6 377.5L103.0 380.1L103.4 379.4L103.9 376.9L104.3 379.0L104.8 379.7L105.3 381.2L105.7 381.6L106.2 378.7L106.7 380.0L107.2 379.3L107.7 378.8L108.1 378.7L108.6 377.5L109.1 379.1L109.6 379.9L110.0 379.2L110.5 378.9L110.9 379.4L111.3 378.4L111.6 378.4L112.0 376.5L112.4 379.4L112.8 378.4L113.2 383.1L113.5 379.0L113.9 375.9L114.3 380.8L114.7 379.5L115.1 377.6L115.5 378.6L115.9 381.1L116.3 378.2L116.7 380.9L117.1 378.6L117.5 377.8L118.0 379.2L118.4 379.2L118.8 380.0L119.2 380.7L119.6 379.9L120.1 378.1L120.5 378.5L120.9 378.0L121.4 382.7L121.8 379.9L122.3 378.3L122.7 378.5L123.2 378.4L123.6 380.6L124.1 382.4L124.5 379.5L124.8 379.6L125.2 380.7L125.6 376.8L126.0 379.6L126.4 378.6L126.7 379.9L127.1 378.5L127.5 379.4L127.9 377.4L128.3 378.2L128.7 376.4L129.1 377.7L129.5 379.0L130.0 378.5L130.4 378.1L130.8 377.6L131.2 378.7L131.6 378.9L132.0 378.8L132.4 378.3L132.9 376.9L133.3 379.0L133.7 377.2L134.1 377.8L134.5 377.8L135.0 376.6L135.4 380.1L135.8 377.2L136.2 376.3L136.6 377.7L137.1 378.4L137.5 379.7L137.9 380.2L138.3 375.6L138.7 377.3L139.1 376.3L139.6 376.0L140.0 377.8L140.4 376.8L140.8 378.0L141.2 377.5L141.6 377.9L142.0 379.4L142.4 377.8L142.8 375.0L143.3 377.1L143.7 378.2L144.1 379.8L144.5 378.2L144.9 377.6L145.4 375.9L145.8 378.8L146.2 377.1L146.6 378.1L147.1 377.7L147.5 376.3L147.9 377.3L148.3 376.2L148.8 375.6L149.2 379.0L149.6 375.3L150.0 376.5L150.5 378.5L150.9 375.8L151.3 374.3L151.7 374.1L152.1 376.2L152.5 377.1L152.9 374.8L153.3 377.9L153.7 376.0L154.1 377.0L154.5 373.9L154.9 375.4L155.3 375.7L155.7 376.7L156.0 377.3L156.4 374.3L156.8 373.9L157.1 375.3L157.5 371.5L157.9 373.6L158.2 374.1L158.7 374.9L159.2 374.9L159.7 376.8L160.1 374.0L160.6 372.8L161.0 373.9L161.5 374.6L161.9 374.6L162.4 374.9L162.8 369.8L163.2 372.9L163.6 373.0L164.0 376.0L164.4 374.9L164.8 375.2L165.2 375.7L165.6 372.3L166.0 374.0L166.4 374.1L166.8 372.1L167.1 372.5L167.5 374.5L167.9 374.0L168.2 374.6L168.6 371.6L168.9 371.6L169.3 372.5L169.6 375.2L170.0 371.9L170.5 373.3L170.9 371.1L171.4 373.0L171.8 370.2L172.2 367.0L172.7 371.0L173.1 371.7L173.5 370.0L173.9 371.6L174.3 370.7L174.6 369.2L175.0 371.9L175.4 369.3L175.8 370.7L176.2 369.5L176.5 369.2L176.9 369.6L177.3 371.0L177.7 369.0L178.1 368.3L178.5 370.4L178.9 369.7L179.3 367.3L179.7 368.8L180.1 369.6L180.5 368.0L181.0 366.5L181.4 366.2L181.8 364.2L182.2 369.2L182.6 367.4L183.0 369.5L183.4 370.6L183.8 366.8L184.2 366.9L184.6 369.5L185.1 366.6L185.5 367.0L185.9 367.6L186.3 369.5L186.7 366.4L187.1 366.0L187.5 366.6L187.9 367.5L188.3 364.5L188.7 363.5L189.1 363.4L189.5 364.9L189.9 364.5L190.3 364.3L190.7 361.7L191.2 361.6L191.6 363.7L192.0 357.8L192.4 362.6L192.8 360.8L193.2 362.4L193.6 359.3L194.0 359.2L194.4 360.9L194.8 361.2L195.2 362.2L195.6 357.9L196.0 360.8L196.4 356.0L196.8 359.6L197.3 358.1L197.7 357.4L198.1 357.5L198.6 354.8L199.0 355.6L199.4 357.4L199.8 359.4L200.3 356.2L200.7 356.7L201.1 357.1L201.5 356.7L201.9 355.7L202.3 354.7L202.7 360.4L203.1 359.0L203.4 354.5L203.8 357.4L204.1 353.9L204.6 354.3L205.1 353.4L205.6 350.9L206.0 348.5L206.4 351.1L206.8 348.1L207.1 350.2L207.5 345.5L207.9 349.0L208.3 345.9L208.7 348.9L209.2 343.7L209.6 345.0L209.9 345.9L210.3 344.6L210.7 344.7L211.1 343.9L211.5 345.4L211.9 344.5L212.3 343.7L212.8 346.1L213.2 348.5L213.6 341.9L214.0 343.5L214.4 345.3L214.9 340.1L215.3 346.1L215.7 339.6L216.1 342.7L216.5 342.1L216.9 340.8L217.3 343.9L217.7 338.2L218.2 341.4L218.6 338.0L219.0 338.7L219.4 339.3L219.8 338.3L220.2 336.5L220.6 332.6L221.0 337.6L221.4 338.2L221.8 334.2L222.2 333.9L222.5 334.6L222.9 333.8L223.4 329.9L223.9 330.8L224.3 330.6L224.8 328.6L225.2 328.1L225.7 325.5L226.1 325.1L226.5 327.0L226.9 323.0L227.3 323.7L227.6 324.4L228.0 322.6L228.5 322.9L229.0 316.2L229.4 316.1L229.8 314.7L230.2 315.4L230.6 313.5L231.0 309.6L231.4 310.5L231.8 306.1L232.2 307.8L232.6 305.4L233.0 301.7L233.4 302.8L233.8 304.5L234.3 302.1L234.7 303.2L235.1 306.4L235.5 301.5L235.9 303.3L236.3 299.4L236.7 301.7L237.2 300.7L237.6 306.7L238.0 305.9L238.5 306.5L238.9 305.8L239.4 305.9L239.9 302.9L240.3 307.0L240.8 309.4L241.2 302.6L241.6 306.3L242.0 307.9L242.4 303.2L242.6 301.8L243.0 298.8L243.4 298.1L244.0 300.9L244.3 296.8L244.6 295.9L245.0 298.3L245.4 294.3L245.8 292.0L246.2 295.9L246.6 299.9L247.1 298.2L247.5 297.1L247.9 297.4L248.4 292.4L248.8 295.1L249.2 292.7L249.6 294.8L250.0 294.6L250.5 294.2L250.9 293.9L251.3 293.8L251.8 294.0L252.2 289.3L252.6 288.9L253.0 293.3L253.4 289.4L253.8 289.7L254.3 285.7L254.7 281.4L255.1 283.7L255.5 283.8L255.9 282.5L256.4 278.1L256.8 283.1L257.2 279.7L257.6 282.2L258.1 273.7L258.5 279.9L258.9 275.5L259.3 275.0L259.8 275.5L260.2 271.5L260.6 273.1L261.0 272.1L261.5 270.7L261.9 268.9L262.3 268.9L262.7 269.1L263.1 264.4L263.5 268.6L264.0 261.9L264.4 264.0L264.9 269.6L265.4 264.3L265.8 265.8L266.1 265.7L266.5 261.6L266.9 263.3L267.3 260.7L267.7 265.1L268.1 263.5L268.5 262.9L268.9 266.3L269.3 266.2L269.7 263.0L270.2 263.6L270.6 261.8L271.0 264.4L271.4 259.0L271.8 265.2L272.2 266.2L272.6 260.9L273.0 260.7L273.4 260.4L273.8 263.2L274.2 265.2L274.6 265.4L275.0 264.7L275.4 261.8L275.8 263.3L276.2 265.2L276.6 266.4L277.0 261.8L277.4 262.7L277.8 268.6L278.2 271.0L278.6 266.3L279.0 262.9L279.4 265.8L279.8 267.2L280.2 265.3L280.6 262.7L281.0 262.8L281.4 263.5L281.8 262.9L282.2 263.3L282.6 260.3L283.0 262.0L283.4 261.5L283.8 261.0L284.2 260.5L284.6 261.5L285.0 261.0L285.4 260.0L285.8 259.3L286.2 257.4L286.6 256.7L287.0 259.2L287.4 260.0L287.8 260.0L288.2 259.1L288.6 258.0L289.0 259.4L289.4 258.3L289.8 256.3L290.2 256.0L290.6 252.3L291.0 258.0L291.4 255.3L291.8 260.5L292.2 255.7L292.6 253.6L293.0 260.9L293.4 255.3L293.8 255.9L294.2 255.4L294.6 254.2L295.0 254.2L295.4 249.6L295.8 260.3L296.3 256.0L296.7 257.8L297.1 251.3L297.5 252.2L297.9 251.0L298.3 249.5L298.7 252.8L299.1 254.8L299.5 249.2L299.9 250.4L300.3 256.9L300.7 247.2L301.1 251.8L301.5 245.4L301.9 255.1L302.3 257.7L302.7 251.7L303.1 249.0L303.5 253.9L303.9 251.6L304.3 254.0L304.7 249.5L305.1 251.5L305.5 250.4L305.9 254.0L306.3 250.4L306.7 254.6L307.1 250.7L307.5 253.4L307.9 252.4L308.3 254.1L308.7 258.7L309.1 256.7L309.5 257.9L309.9 255.0L310.3 254.9L310.7 257.5L311.1 251.8L311.5 255.9L311.9 259.5L312.3 259.0L312.7 252.5L313.1 256.4L313.5 262.4L314.0 258.8L314.4 263.3L314.8 263.5L315.3 261.7L315.7 263.9L316.2 259.3L316.6 258.6L317.0 258.5L317.5 259.2L317.9 267.6L318.3 261.7L318.7 261.5L319.1 260.5L319.5 261.8L319.9 263.4L320.4 261.5L320.8 265.2L321.3 262.9L321.7 266.6L322.1 266.1L322.4 265.8L322.8 266.8L323.2 266.7L323.6 262.7L324.1 266.5L324.5 261.9L325.0 266.8L325.4 267.7L325.7 270.2L326.1 267.8L326.5 266.8L326.9 268.2L327.3 268.1L327.8 267.4L328.2 273.4L328.6 271.5L329.0 269.8L329.5 273.5L329.9 273.7L330.3 277.0L330.7 270.2L331.1 271.3L331.4 274.6L331.8 276.0L332.3 273.7L332.7 273.4L333.2 275.3L333.6 273.7L334.0 271.5L334.4 274.2L334.9 271.3L335.3 270.6L335.7 272.8L336.1 271.9L336.5 274.7L336.9 273.1L337.3 274.3L337.7 270.4L338.1 272.7L338.4 272.6L338.8 271.3L339.2 275.3L339.6 278.8L340.0 278.0L340.4 276.8L340.8 278.8L341.2 274.6L341.6 281.0L342.1 279.2L342.5 280.5L342.9 275.9L343.3 279.2L343.7 275.5L344.1 276.4L344.5 277.9L345.0 278.5L345.4 274.7L345.8 283.2L346.3 280.3L346.7 281.7L347.2 280.7L347.6 279.5L348.0 278.9L348.5 282.9L348.9 281.3L349.3 281.5L349.7 281.6L350.1 284.3L350.5 281.0L350.9 282.7L351.3 286.3L351.7 278.2L352.1 283.3L352.5 287.1L352.9 286.6L353.3 281.3L353.7 284.8L354.1 287.3L354.5 283.9L354.9 288.0L355.3 288.0L355.7 284.9L356.1 289.7L356.5 292.5L356.9 289.7L357.3 289.8L357.8 288.9L358.2 292.4L358.6 292.3L359.0 291.7L359.4 292.1L359.8 293.7L360.2 291.1L360.6 299.9L361.0 298.3L361.4 296.8L361.8 298.3L362.1 294.2L362.5 299.8L363.0 297.4L363.4 297.3L363.9 298.9L364.3 295.6L364.7 293.7L365.2 297.9L365.6 296.8L366.0 293.4L366.4 297.3L366.8 290.9L367.2 293.5L367.6 291.9L368.0 293.0L368.5 295.3L368.9 292.2L369.4 295.9L369.9 298.6L370.3 297.9L370.8 303.0L371.2 304.0L371.6 305.0L372.0 303.3L372.4 304.9L372.8 308.1L373.3 301.3L373.7 306.2L374.1 305.0L374.4 302.7L374.8 300.0L375.2 303.2L375.6 300.3L376.2 300.8L376.5 301.8L376.8 304.0L377.2 300.4L377.6 300.4L378.0 300.1L378.3 297.6L378.8 305.4L379.2 303.2L379.6 304.6L380.0 309.4L380.5 304.3L380.9 308.0L381.3 305.7L381.8 306.5L382.2 305.2L382.6 308.7L383.0 307.0L383.4 308.7L383.8 308.5L384.2 309.3L384.6 306.7L385.0 311.6L385.4 309.4L385.8 315.8L386.2 318.6L386.6 315.7L387.0 310.8L387.4 314.3L387.8 311.6L388.2 312.2L388.6 310.9L389.0 313.4L389.4 314.1L389.8 309.0L390.2 309.4L390.6 314.0L391.0 315.3L391.4 312.8L391.8 309.4L392.2 315.2L392.6 311.4L393.0 317.4L393.4 316.6L393.8 313.5L394.2 318.8L394.6 315.5L395.0 319.3L395.4 317.7L395.8 318.1L396.2 321.1L396.6 320.6L397.0 316.6L397.4 319.9L397.9 318.2L398.3 320.3L398.7 319.8L399.1 320.3L399.6 320.5L400.0 321.5L400.4 322.1L400.9 322.4L401.3 327.1L401.7 323.5L402.1 325.6L402.5 326.7L402.8 324.3L403.2 327.5L403.5 326.3L404.1 326.1L404.5 327.5L405.0 327.4L405.4 330.6L405.7 333.2L406.1 336.4L406.5 327.5L406.9 329.0L407.4 333.4L407.8 334.3L408.2 331.5L408.5 331.8L408.9 328.0L409.3 329.0L409.8 330.0L410.2 330.0L410.6 327.7L411.1 331.5L411.5 332.5L412.0 328.8L412.5 329.8L412.9 331.2L413.2 328.4L413.6 329.2L414.0 328.0L414.5 330.4L414.9 332.2L415.3 328.4L415.7 332.7L416.2 330.8L416.6 334.4L417.0 332.0L417.4 333.5L417.9 334.2L418.3 332.2L418.7 333.4L419.0 332.0L419.4 334.0L419.9 333.2L420.4 336.3L420.8 336.6L421.2 333.4L421.7 339.5L422.1 332.6L422.5 336.0L422.9 333.7L423.3 335.6L423.7 333.9L424.1 335.4L424.5 340.3L424.9 335.5L425.4 338.0L425.8 338.8L426.2 339.3L426.7 336.2L427.1 338.3L427.5 341.4L428.0 341.6L428.4 343.1L428.8 340.0L429.2 343.0L429.6 346.2L430.1 342.6L430.6 345.3L431.1 342.9L431.5 344.0L432.0 348.4L432.5 344.6L432.9 348.3L433.2 351.2L433.6 347.3L433.8 347.4" fill="none" stroke="#1f77b4" stroke-width="2.6" stroke-linejoin="round"/>
<rect x="83.1" y="231.8" width="368.20000000000005" height="157.8" fill="none" stroke="#000" stroke-width="1.3"/>
<line x1="77.39999999999999" y1="379.1" x2="83.1" y2="379.1" stroke="#000" stroke-width="1.3"/>
<text x="71.4" y="384.90000000000003" text-anchor="end" class="t">0.0</text>
<line x1="77.39999999999999" y1="313.0" x2="83.1" y2="313.0" stroke="#000" stroke-width="1.3"/>
<text x="71.4" y="318.8" text-anchor="end" class="t">0.5</text>
<line x1="77.39999999999999" y1="246.8" x2="83.1" y2="246.8" stroke="#000" stroke-width="1.3"/>
<text x="71.4" y="252.60000000000002" text-anchor="end" class="t">1.0</text>
<line x1="99.4" y1="389.6" x2="99.4" y2="395.3" stroke="#000" stroke-width="1.3"/>
<text x="99.4" y="413" text-anchor="middle" class="t">550</text>
<line x1="173.7" y1="389.6" x2="173.7" y2="395.3" stroke="#000" stroke-width="1.3"/>
<text x="173.7" y="413" text-anchor="middle" class="t">600</text>
<line x1="248.0" y1="389.6" x2="248.0" y2="395.3" stroke="#000" stroke-width="1.3"/>
<text x="248.0" y="413" text-anchor="middle" class="t">650</text>
<line x1="322.29999999999995" y1="389.6" x2="322.29999999999995" y2="395.3" stroke="#000" stroke-width="1.3"/>
<text x="322.29999999999995" y="413" text-anchor="middle" class="t">700</text>
<line x1="396.6" y1="389.6" x2="396.6" y2="395.3" stroke="#000" stroke-width="1.3"/>
<text x="396.6" y="413" text-anchor="middle" class="t">750</text>
<path d="M85.3 218.4L93.4 226.4M93.4 218.4L85.3 226.4" stroke="#000" stroke-width="1.05" fill="none"/>
<text x="96.6" y="227.10000000000002" class="t">10</text>
<rect x="113.5" y="218.4" width="8.1" height="1.0" fill="#000"/>
<text x="122.3" y="221.70000000000002" class="t" style="font-size:12.4px">2</text>
<rect x="96.6" y="238.60000000000002" width="50.3" height="26" rx="3.5" fill="#fff" fill-opacity="0.8" stroke="#dedede" stroke-width="1.2"/>
<text x="101.6" y="255.8" class="t" textLength="39.5" lengthAdjust="spacingAndGlyphs">348 K</text>
<path d="M132.0 308.70000000000005 L141.2 308.70000000000005 L136.6 317.80000000000007 Z" fill="#000"/>
<path d="M231.8 280.40000000000003 L237.60000000000002 286.20000000000005 L231.8 292.00000000000006 L226.0 286.20000000000005 Z" fill="#000"/>
<text x="174" y="459.2" class="t" textLength="121" lengthAdjust="spacingAndGlyphs">wavelength (nm)</text>
<text transform="translate(20.9 304.8) rotate(-90)" x="0" y="0" class="t" textLength="139.7" lengthAdjust="spacingAndGlyphs">fluorescence counts</text>
</svg>
</body></html>
